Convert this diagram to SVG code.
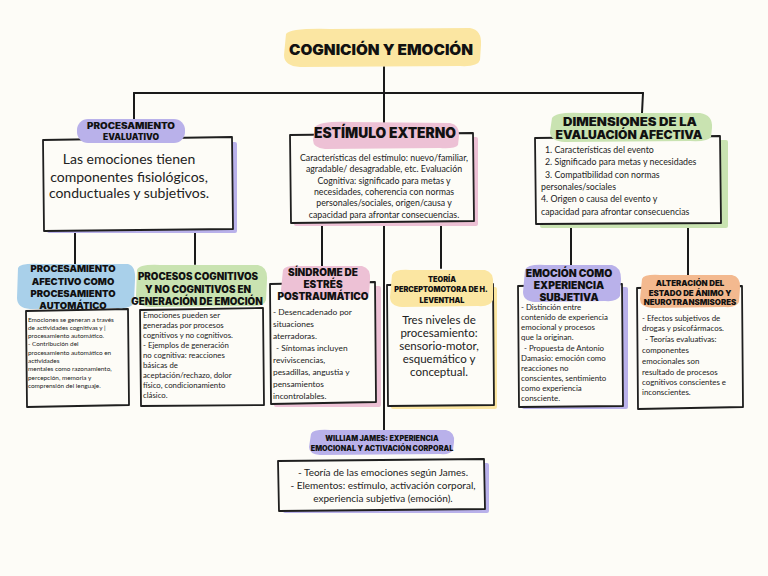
<svg xmlns="http://www.w3.org/2000/svg" width="768" height="576" viewBox="0 0 768 576">
<defs>
<style>
.bg{fill:#fdfcf7}
.frame{fill:#fdfcf7;stroke:#1f1f1f;stroke-width:1.8;stroke-linejoin:round}
.conn{stroke:#1a1a1a;stroke-width:2;fill:none;stroke-linecap:round}
.h{font-family:Inter,"DejaVu Sans",sans-serif;font-weight:900;fill:#111;text-anchor:middle}
.b{font-family:Lato,"Open Sans",sans-serif;fill:#222}
.c{text-anchor:middle}
.yel{fill:#fbe6a2}.pur{fill:#b9b1ea}.pink{fill:#edc1d5}.grn{fill:#c9e3b1}.blu{fill:#a9d0ea}.org{fill:#f3b98f}
</style>
</defs>
<rect class="bg" x="0" y="0" width="768" height="576"/>

<g id="connectors">
<path class="conn" d="M384,67 L384,124"/>
<path class="conn" d="M134,93 L643,93"/>
<path class="conn" d="M134,93 L134,121"/>
<path class="conn" d="M643,93 L642,113"/>
<path class="conn" d="M75,230 L75,265"/>
<path class="conn" d="M195,229 L195,264"/>
<path class="conn" d="M322,222 L322,267"/>
<path class="conn" d="M441,222 L441,268"/>
<path class="conn" d="M384,222 L384,431"/>
<path class="conn" d="M571,224 L571,268"/>
<path class="conn" d="M688,224 L688,275"/>
</g>

<g id="title">
<path class="yel" d="M286,34 Q290,28 330,29 L470,28 Q482,30 481,45 L480,60 Q478,67 460,66 L300,67 Q284,66 284,55 Z"/>
<text class="h" x="381" y="55" font-size="15" textLength="184" lengthAdjust="spacingAndGlyphs">COGNICIÓN Y EMOCIÓN</text>
</g>

<g id="procesamiento-evaluativo">
<rect class="pur" x="47" y="142" width="190" height="91" rx="2"/>
<path class="frame" d="M43,140 L232,137 L233,229 L44,231 Z"/>
<rect class="pur" x="77" y="119" width="108" height="24" rx="11"/>
<text class="h" x="131" y="129" font-size="8.5" textLength="88" lengthAdjust="spacingAndGlyphs">PROCESAMIENTO</text>
<text class="h" x="131" y="140" font-size="8.5">EVALUATIVO</text>
<text class="b c" font-size="14"><tspan x="129" y="164">Las emociones tienen</tspan><tspan x="129" y="182">componentes fisiológicos,</tspan><tspan x="129" y="198">conductuales y subjetivos.</tspan></text>
</g>

<g id="estimulo-externo">
<rect class="pink" x="294" y="137" width="184" height="89" rx="2"/>
<path class="frame" d="M290,135 L473,133 L474,221 L291,223 Z"/>
<path class="pink" d="M315,127 Q320,121 350,122 L450,123 Q460,125 459,136 L458,145 Q455,149 440,148 L325,149 Q313,148 313,140 Z"/>
<text class="h" x="385" y="138" font-size="14" textLength="142" lengthAdjust="spacingAndGlyphs">ESTÍMULO EXTERNO</text>
<text class="b c" font-size="8.8"><tspan x="384" y="161">Características del estímulo: nuevo/familiar,</tspan><tspan x="384" y="172">agradable/  desagradable, etc. Evaluación</tspan><tspan x="384" y="183.5">Cognitiva: significado para metas y</tspan><tspan x="384" y="195">necesidades, coherencia con normas</tspan><tspan x="384" y="206">personales/sociales, origen/causa y</tspan><tspan x="384" y="217.5">capacidad para afrontar consecuencias.</tspan></text>
</g>

<g id="dimensiones">
<rect class="grn" x="540" y="140" width="188" height="88" rx="2"/>
<path class="frame" d="M535,138 L720,136 L721,223 L536,224 Z"/>
<path class="grn" d="M552,118 Q556,112 580,113 L700,113 Q713,115 712,128 L711,137 Q708,142 690,141 L565,142 Q550,141 550,132 Z"/>
<text class="h" x="630" y="126" font-size="11.5" textLength="134" lengthAdjust="spacingAndGlyphs">DIMENSIONES DE LA</text>
<text class="h" x="629" y="139" font-size="11.5" textLength="147" lengthAdjust="spacingAndGlyphs">EVALUACIÓN AFECTIVA</text>
<text class="b" font-size="8.8"><tspan x="545" y="153">1. Características del evento</tspan><tspan x="545" y="165">2. Significado para metas y necesidades</tspan><tspan x="545" y="178">3. Compatibilidad con normas</tspan><tspan x="541" y="190">personales/sociales</tspan><tspan x="541" y="202">4. Origen o causa del evento y</tspan><tspan x="541" y="215">capacidad para afrontar consecuencias</tspan></text>
</g>

<g id="procesamiento-afectivo">
<path class="frame" d="M26,311 L128,309 L129,405 L27,407 Z"/>
<path class="blu" d="M18,268 Q20,263 40,264 L128,264 Q136,266 135,280 L134,302 Q132,309 118,308 L30,309 Q17,308 17,298 Z"/>
<text class="h" font-size="9.5"><tspan x="73" y="272">PROCESAMIENTO</tspan><tspan x="73" y="285">AFECTIVO COMO</tspan><tspan x="73" y="297">PROCESAMIENTO</tspan><tspan x="73" y="309">AUTOMÁTICO</tspan></text>
<text class="b" font-size="6.4"><tspan x="28" y="322">Emociones se generan a través</tspan><tspan x="28" y="330">de actividades cognitivas y |</tspan><tspan x="28" y="338">procesamiento automático.</tspan><tspan x="28" y="346">- Contribución del</tspan><tspan x="28" y="355">procesamiento automático en</tspan><tspan x="28" y="363">actividades</tspan><tspan x="28" y="371">mentales como razonamiento,</tspan><tspan x="28" y="380">percepción, memoria y</tspan><tspan x="28" y="388">comprensión del lenguaje.</tspan></text>
</g>

<g id="procesos-cognitivos">
<path class="frame" d="M140,310 L263,308 L264,405 L141,406 Z"/>
<path class="grn" d="M137,270 Q139,264 160,265 L258,265 Q268,267 267,280 L266,300 Q264,307 250,306 L150,307 Q136,306 136,296 Z"/>
<text class="h" font-size="9.8"><tspan x="198" y="280">PROCESOS COGNITIVOS</tspan><tspan x="198" y="293">Y NO COGNITIVOS EN</tspan><tspan x="197" y="305">GENERACIÓN DE EMOCIÓN</tspan></text>
<text class="b" font-size="7.8"><tspan x="143" y="318">Emociones pueden ser</tspan><tspan x="143" y="328">generadas por procesos</tspan><tspan x="143" y="338">cognitivos y no cognitivos.</tspan><tspan x="143" y="348">- Ejemplos de generación</tspan><tspan x="143" y="358">no cognitiva: reacciones</tspan><tspan x="143" y="368">básicas de</tspan><tspan x="143" y="378">aceptación/rechazo, dolor</tspan><tspan x="143" y="388">físico, condicionamiento</tspan><tspan x="143" y="398">clásico.</tspan></text>
</g>

<g id="sindrome">
<rect class="pink" x="274" y="286" width="107" height="121" rx="2"/>
<path class="frame" d="M270,284 L375,282 L376,402 L271,404 Z"/>
<path class="pink" d="M283,270 Q286,265 300,266 L362,266 Q371,268 370,280 L369,294 Q366,300 355,299 L292,300 Q281,299 281,290 Z"/>
<text class="h" font-size="10"><tspan x="323" y="276">SÍNDROME DE</tspan><tspan x="323" y="288">ESTRÉS</tspan><tspan x="323" y="300">POSTRAUMÁTICO</tspan></text>
<text class="b" font-size="8.4"><tspan x="273" y="315">- Desencadenado por</tspan><tspan x="273" y="327">situaciones</tspan><tspan x="273" y="339">aterradoras.</tspan><tspan x="276" y="351">- Síntomas incluyen</tspan><tspan x="273" y="363">reviviscencias,</tspan><tspan x="273" y="375">pesadillas, angustia y</tspan><tspan x="273" y="387">pensamientos</tspan><tspan x="273" y="399">incontrolables.</tspan></text>
</g>

<g id="leventhal">
<rect class="yel" x="391" y="287" width="106" height="122" rx="2"/>
<path class="frame" d="M387,285 L493,284 L494,405 L388,406 Z"/>
<path class="yel" d="M392,275 Q394,269 410,270 L485,270 Q494,272 493,284 L493,300 Q490,307 478,306 L402,307 Q390,306 390,297 Z"/>
<text class="h" font-size="7.3"><tspan x="442" y="282">TEORÍA</tspan><tspan x="441" y="292">PERCEPTOMOTORA DE H.</tspan><tspan x="442" y="303">LEVENTHAL</tspan></text>
<text class="b c" font-size="11.5"><tspan x="439" y="324">Tres niveles de</tspan><tspan x="439" y="337">procesamiento:</tspan><tspan x="439" y="350">sensorio-motor,</tspan><tspan x="439" y="363">esquemático y</tspan><tspan x="439" y="376">conceptual.</tspan></text>
</g>

<g id="emocion-experiencia">
<rect class="pur" x="522" y="287" width="106" height="122" rx="2"/>
<path class="frame" d="M518,286 L622,284 L623,406 L519,407 Z"/>
<path class="pur" d="M525,270 Q527,264 545,265 L612,265 Q621,267 621,279 L620,296 Q617,302 605,301 L535,302 Q523,301 523,292 Z"/>
<text class="h" font-size="10.3"><tspan x="569" y="277">EMOCIÓN COMO</tspan><tspan x="569" y="289">EXPERIENCIA</tspan><tspan x="569" y="301">SUBJETIVA</tspan></text>
<text class="b" font-size="7.9"><tspan x="521" y="310">- Distinción entre</tspan><tspan x="521" y="320">contenido de experiencia</tspan><tspan x="521" y="330">emocional y  procesos</tspan><tspan x="521" y="340">que la originan.</tspan><tspan x="524" y="351">- Propuesta de Antonio</tspan><tspan x="521" y="361">Damasio: emoción como</tspan><tspan x="521" y="371">reacciones  no</tspan><tspan x="521" y="381">conscientes, sentimiento</tspan><tspan x="521" y="391">como experiencia</tspan><tspan x="521" y="401">consciente.</tspan></text>
</g>

<g id="alteracion">
<path class="frame" d="M637,288 L742,286 L743,407 L638,409 Z"/>
<path class="org" d="M642,279 Q644,274 660,275 L732,275 Q741,277 740,288 L739,302 Q736,308 725,307 L652,308 Q640,307 640,299 Z"/>
<text class="h" font-size="7.9"><tspan x="690" y="286">ALTERACIÓN DEL</tspan><tspan x="690" y="295.5">ESTADO DE ÁNIMO Y</tspan><tspan x="690" y="305">NEUROTRANSMISORES</tspan></text>
<text class="b" font-size="7.9"><tspan x="642" y="321">- Efectos subjetivos de</tspan><tspan x="642" y="331">drogas y psicofármacos.</tspan><tspan x="645" y="342">- Teorías evaluativas:</tspan><tspan x="642" y="353">componentes</tspan><tspan x="642" y="364">emocionales son</tspan><tspan x="642" y="375">resultado de procesos</tspan><tspan x="642" y="385">cognitivos conscientes e</tspan><tspan x="642" y="395">inconscientes.</tspan></text>
</g>

<g id="william-james">
<rect class="pur" x="283" y="463" width="206" height="50" rx="2"/>
<path class="frame" d="M278,461 L484,459 L485,509 L279,511 Z"/>
<path class="pur" d="M311,434 Q313,429 330,430 L446,430 Q455,432 454,442 L453,450 Q450,455 440,454 L320,455 Q309,454 309,447 Z"/>
<text class="h" font-size="7.2"><tspan x="382" y="441">WILLIAM JAMES: EXPERIENCIA</tspan><tspan x="382" y="450.5">EMOCIONAL Y ACTIVACIÓN CORPORAL</tspan></text>
<text class="b c" font-size="10"><tspan x="383" y="476">- Teoría de las emociones según James.</tspan><tspan x="383" y="489">- Elementos: estímulo, activación corporal,</tspan><tspan x="383" y="502">experiencia  subjetiva (emoción).</tspan></text>
</g>
</svg>
